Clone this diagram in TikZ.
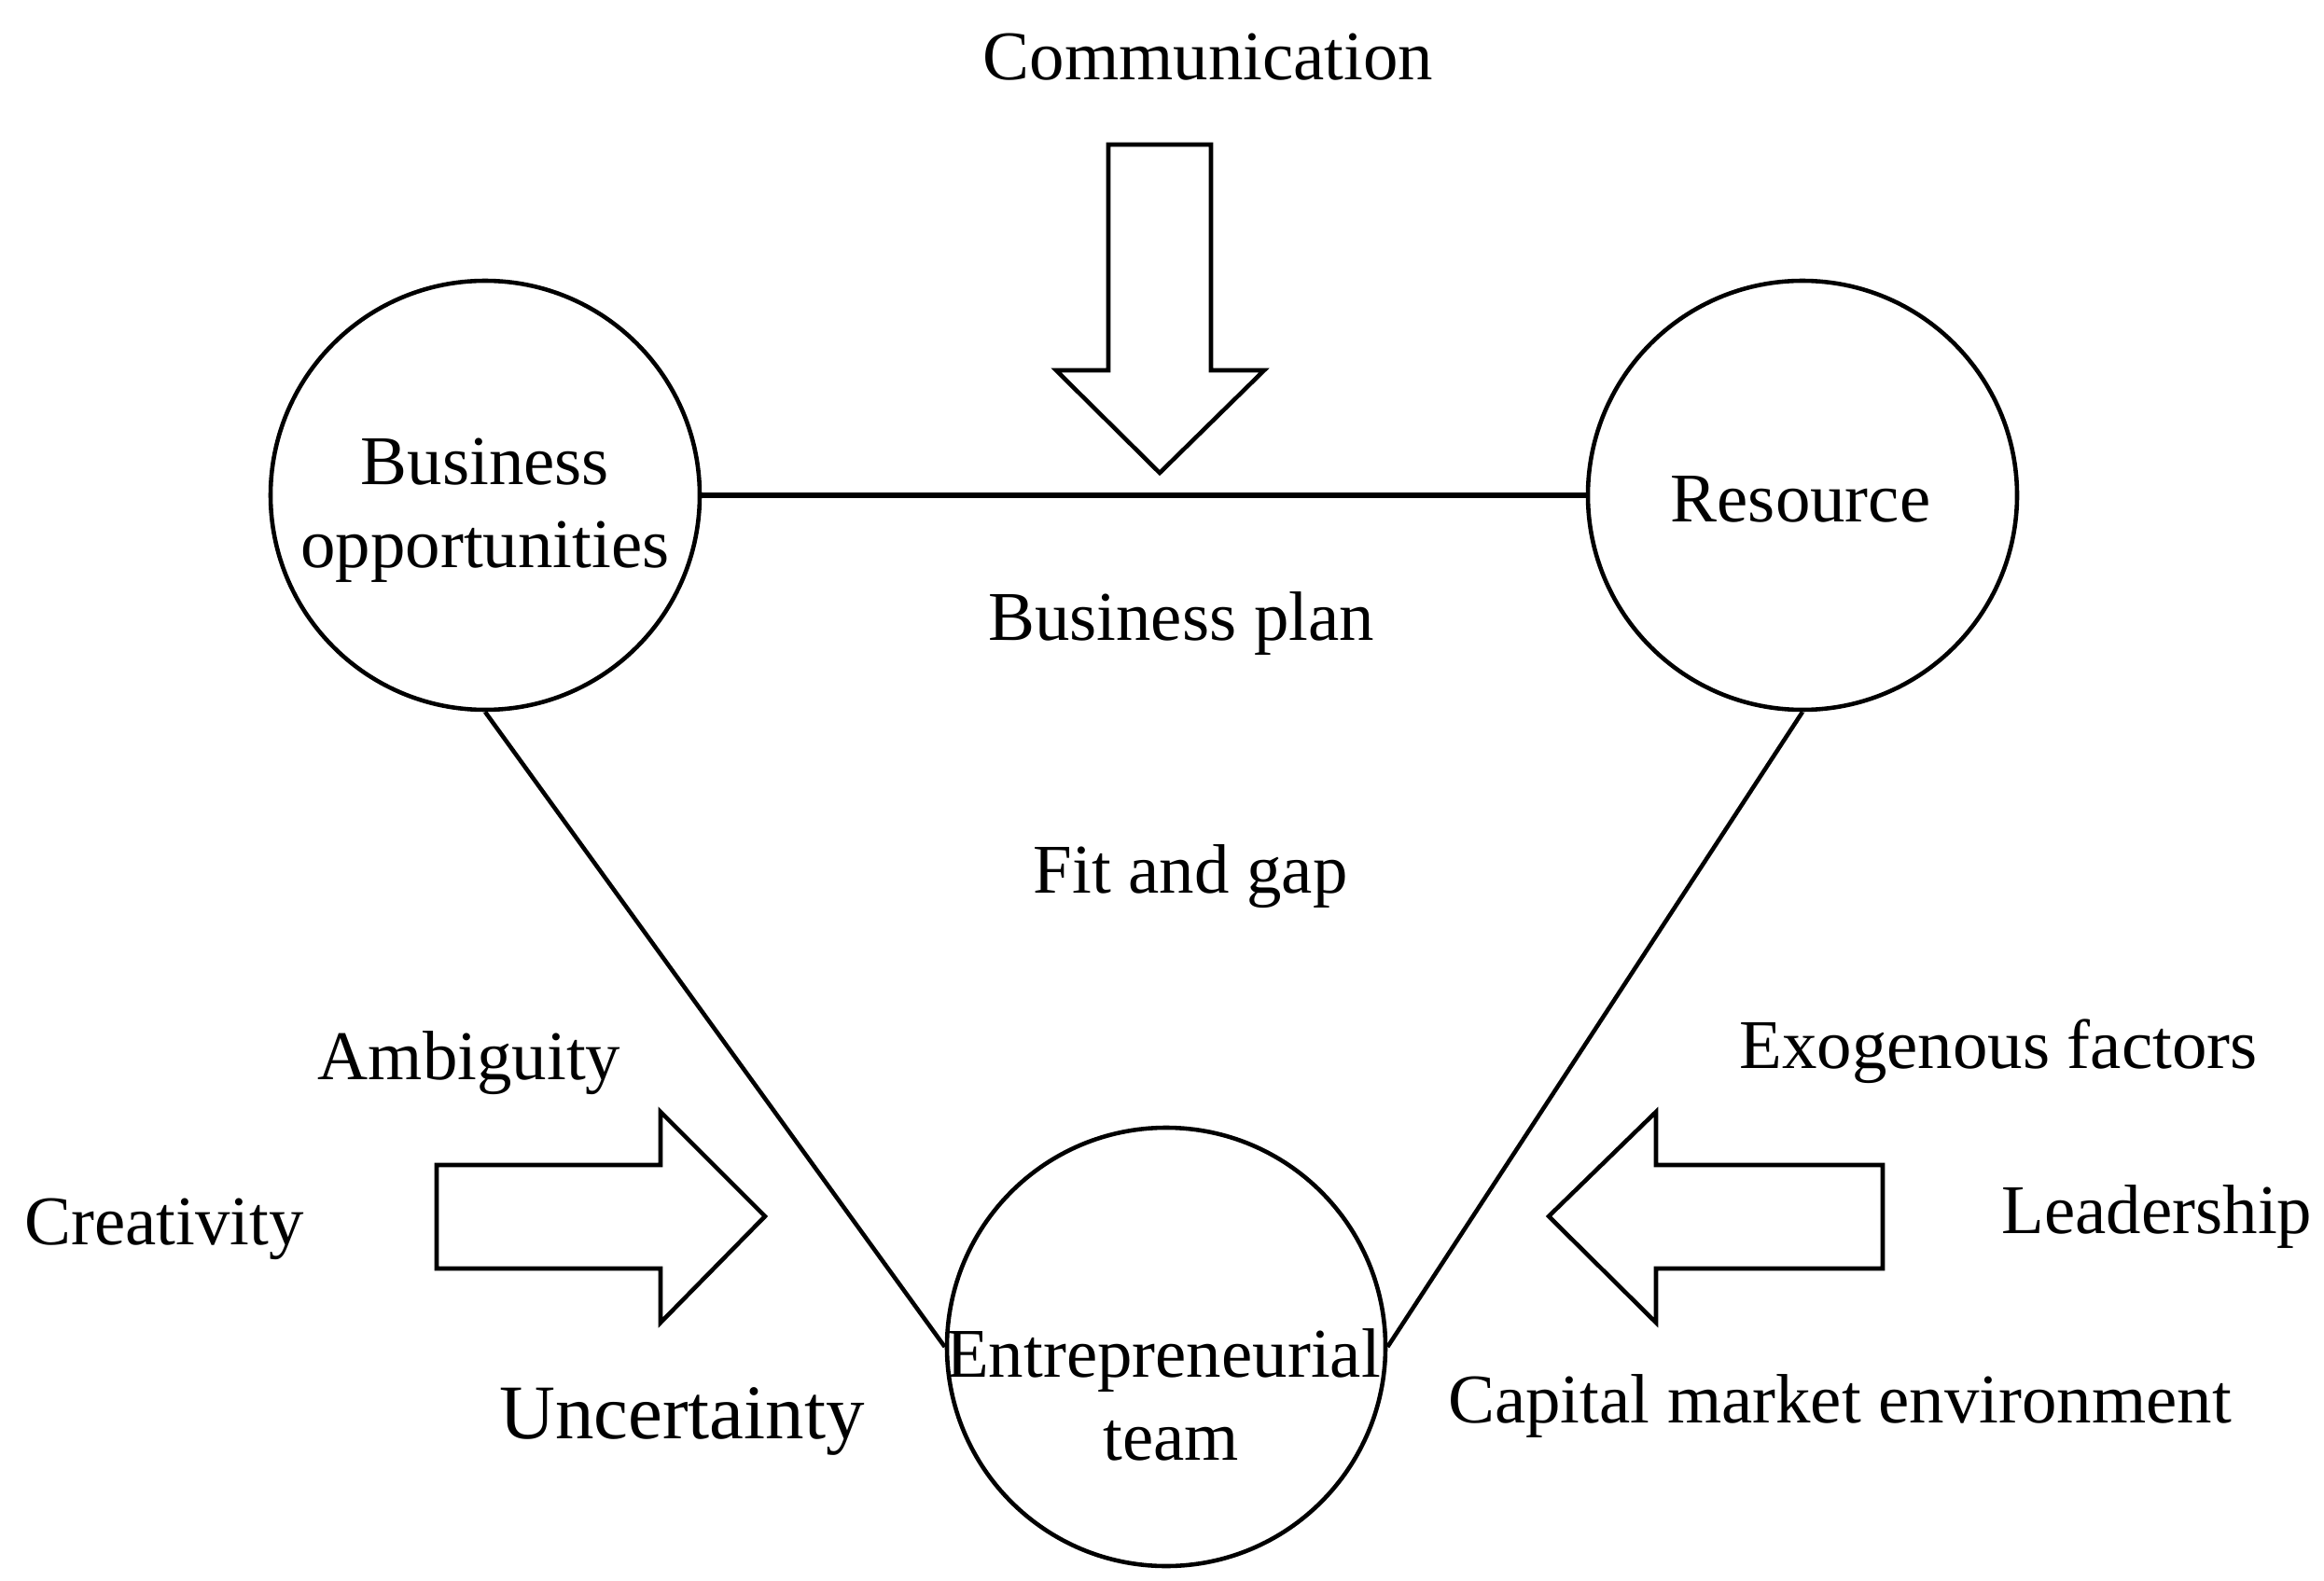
\documentclass[tikz,border=0pt]{standalone}
\usepackage{fontspec}
\setmainfont{Liberation Serif}
\begin{document}
\begin{tikzpicture}[x=1cm,y=1cm,
  ln/.style={line width=1.3pt},
  circ/.style={circle,draw,line width=1.3pt,inner sep=0pt,minimum size=#1},
  lbl/.style={anchor=base,inner sep=0pt,font=\fontsize{21.3}{26}\selectfont},
  blockarrow/.style={draw,line width=1.3pt,line join=miter,fill=white}]
\useasboundingbox (0,0) rectangle (24.91,-16.95);
% circles
\node[circ=4.6cm] (bo) at (5.20,-5.31) {};
\node[circ=4.6cm] (rs) at (19.32,-5.31) {};
\node[circ=4.7cm] (et) at (12.50,-14.44) {};
% connectors
\draw[ln,line width=1.7pt] (bo.east) -- (rs.west);
\draw[ln] (bo.south) -- (et.west);
\draw[ln] (rs.south) -- (et.east);
% block arrows
\draw[blockarrow] (11.88,-1.55) -- (12.98,-1.55) -- (12.98,-3.97) -- (13.55,-3.97)
  -- (12.43,-5.07) -- (11.32,-3.97) -- (11.88,-3.97) -- cycle;
\draw[blockarrow] (4.68,-12.49) -- (7.08,-12.49) -- (7.08,-11.92) -- (8.20,-13.04)
  -- (7.08,-14.18) -- (7.08,-13.60) -- (4.68,-13.60) -- cycle;
\draw[blockarrow] (20.18,-12.49) -- (17.75,-12.49) -- (17.75,-11.92) -- (16.60,-13.04)
  -- (17.75,-14.18) -- (17.75,-13.60) -- (20.18,-13.60) -- cycle;
% labels
\node[lbl] (tcomm) at (12.95,-0.86) {Communication};
\node[lbl] (tbo1) at (5.20,-5.20) {Business};
\node[lbl] (tbo2) at (5.20,-6.08) {opportunities};
\node[lbl] (trs) at (19.30,-5.60) {Resource};
\node[lbl] (tbp) at (12.66,-6.86) {Business plan};
\node[lbl] (tfit) at (12.76,-9.57) {Fit and gap};
\node[lbl] (tamb) at (5.03,-11.57) {Ambiguity};
\node[lbl] (tcre) at (1.76,-13.34) {Creativity};
\node[lbl,font=\fontsize{23.6}{28}\selectfont] (tunc) at (7.31,-15.42) {Uncertainty};
\node[lbl] (tet1) at (12.47,-14.76) {Entrepreneurial};
\node[lbl] (tet2) at (12.55,-15.65) {team};
\node[lbl] (texo) at (21.42,-11.45) {Exogenous factors};
\node[lbl] (tlea) at (23.12,-13.22) {Leadership};
\node[lbl] (tcap) at (19.72,-15.25) {Capital market environment};
\end{tikzpicture}
\end{document}
